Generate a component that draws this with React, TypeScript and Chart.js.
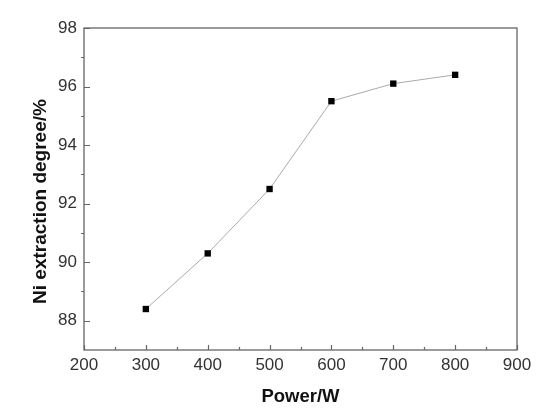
import React, { useEffect, useRef } from "react";
import { Chart, registerables } from "chart.js";

Chart.register(...registerables);

const powerW = [300, 400, 500, 600, 700, 800];
const niExtraction = [88.4, 90.3, 92.5, 95.5, 96.1, 96.4];
const xMajorTicks = [200, 300, 400, 500, 600, 700, 800, 900];
const xMinorTicks = [250, 350, 450, 550, 650, 750, 850];
const yMajorTicks = [88, 90, 92, 94, 96, 98];
const yMinorTicks = [89, 91, 93, 95, 97];
const xTitle = "Power/W";
const yTitle = "Ni extraction degree/%";

const FONT = "'Liberation Sans', Arial, sans-serif";
const AXIS_COLOR = "#666";

const framePlugin = {
  id: "frame",
  afterDraw(chart: any) {
    const { ctx, chartArea } = chart;
    const xs = chart.scales.x;
    const ys = chart.scales.y;
    const { left, right, top, bottom } = chartArea;
    ctx.save();
    ctx.strokeStyle = AXIS_COLOR;
    ctx.lineWidth = 1.3;
    ctx.strokeRect(left, top, right - left, bottom - top);
    ctx.lineWidth = 1.2;
    ctx.beginPath();
    xMajorTicks.forEach((v) => {
      const px = Math.round(xs.getPixelForValue(v)) + 0.5;
      ctx.moveTo(px, bottom);
      ctx.lineTo(px, bottom - 5);
    });
    xMinorTicks.forEach((v) => {
      const px = Math.round(xs.getPixelForValue(v)) + 0.5;
      ctx.moveTo(px, bottom);
      ctx.lineTo(px, bottom - 3);
    });
    yMajorTicks.forEach((v) => {
      const py = Math.round(ys.getPixelForValue(v)) + 0.5;
      ctx.moveTo(left, py);
      ctx.lineTo(left + 6, py);
    });
    yMinorTicks.forEach((v) => {
      const py = Math.round(ys.getPixelForValue(v)) + 0.5;
      ctx.moveTo(left, py);
      ctx.lineTo(left - 3, py);
    });
    ctx.stroke();

    ctx.fillStyle = "#111";
    ctx.textAlign = "center";
    ctx.textBaseline = "middle";
    ctx.font = `bold 18.5px ${FONT}`;
    ctx.fillText(xTitle, (left + right) / 2, bottom + 47);
    ctx.font = `bold 19px ${FONT}`;
    ctx.translate(left - 43.5, (top + bottom) / 2 + 12.5);
    ctx.rotate(-Math.PI / 2);
    ctx.fillText(yTitle, 0, 0);
    ctx.restore();
  },
};

export default function App() {
  const canvasRef = useRef<HTMLCanvasElement | null>(null);

  useEffect(() => {
    if (!canvasRef.current) return;
    const chart = new Chart(canvasRef.current, {
      type: "line",
      data: {
        datasets: [
          {
            data: powerW.map((p, i) => ({ x: p, y: niExtraction[i] })),
            borderColor: "#aaa",
            borderWidth: 1,
            tension: 0,
            pointStyle: "rect",
            pointRadius: 4.5,
            pointBackgroundColor: "#000",
            pointBorderColor: "#000",
            pointBorderWidth: 0,
            fill: false,
          },
        ],
      },
      options: {
        animation: false,
        responsive: false,
        devicePixelRatio: 1,
        layout: { padding: { top: 28, right: 33, left: 0, bottom: 0 } },
        plugins: {
          legend: { display: false },
          tooltip: { enabled: false },
        },
        scales: {
          x: {
            type: "linear",
            min: 200,
            max: 900,
            afterBuildTicks: (s: any) => {
              s.ticks = xMajorTicks.map((v) => ({ value: v }));
            },
            afterFit: (s: any) => {
              s.height = 67;
            },
            grid: { display: false, drawTicks: false },
            border: { display: false },
            ticks: {
              padding: 5,
              color: "#333",
              font: { family: FONT, size: 17 },
              maxRotation: 0,
              autoSkip: false,
            },
          },
          y: {
            type: "linear",
            min: 87,
            max: 98,
            afterBuildTicks: (s: any) => {
              s.ticks = yMajorTicks.map((v) => ({ value: v }));
            },
            afterFit: (s: any) => {
              s.width = 84;
            },
            grid: { display: false, drawTicks: false },
            border: { display: false },
            ticks: {
              padding: 7,
              color: "#333",
              font: { family: FONT, size: 17 },
              autoSkip: false,
            },
          },
        },
      },
      plugins: [framePlugin],
    });
    return () => chart.destroy();
  }, []);

  return (
    <div style={{ position: "absolute", left: 0, top: 0, width: 550, height: 417, background: "#fff" }}>
      <canvas ref={canvasRef} width={550} height={417} style={{ width: 550, height: 417 }} />
    </div>
  );
}
